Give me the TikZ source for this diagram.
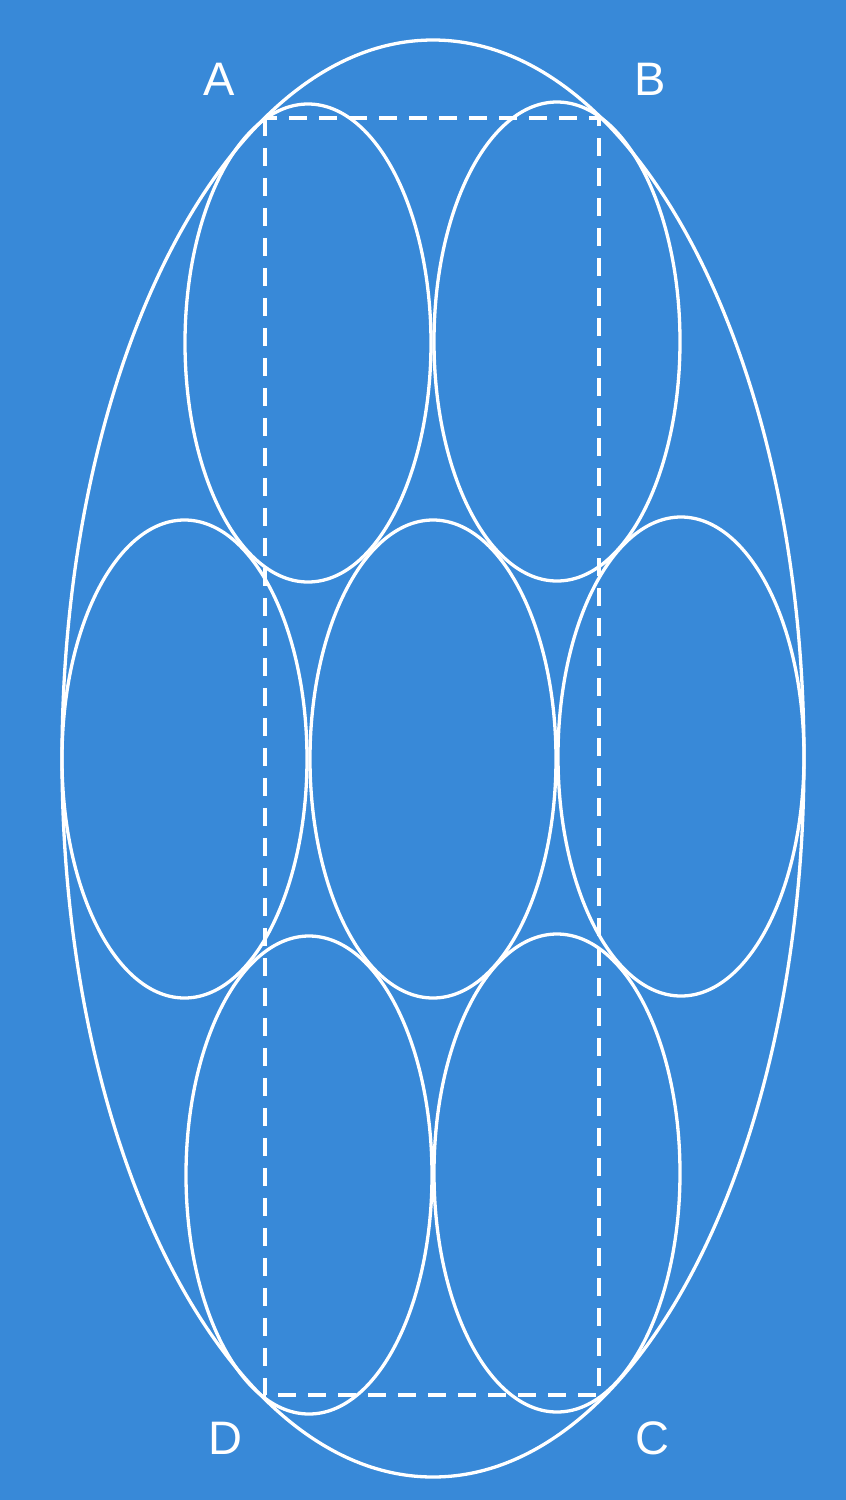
\documentclass[tikz,border=0pt]{standalone}
\usepackage{fontspec}
\setmainfont{Liberation Sans}
\definecolor{bg}{RGB}{56,137,216}
\begin{document}
\begin{tikzpicture}[x=1pt,y=-1pt,
  oval/.style={draw=white,line width=3.3pt},
  box/.style={draw=white,line width=3.3pt,dash pattern=on 18pt off 12pt},
  lbl/.style={text=white,font=\fontsize{47}{50}\selectfont,inner sep=0pt}]
\fill[bg] (0,0) rectangle (846,1500);
\useasboundingbox (0,0) rectangle (846,1500);
\draw[oval] (433,758.5) ellipse [x radius=371, y radius=718.5];
\draw[oval] (308,343) ellipse [x radius=123, y radius=239];
\draw[oval] (557,341.5) ellipse [x radius=123, y radius=239.5];
\draw[oval] (184.5,759) ellipse [x radius=122.5, y radius=239];
\draw[oval] (433,759) ellipse [x radius=123, y radius=239];
\draw[oval] (681,756.5) ellipse [x radius=123, y radius=239.5];
\draw[oval] (309,1175) ellipse [x radius=123, y radius=239];
\draw[oval] (557,1173) ellipse [x radius=123, y radius=239];
\draw[box] (265,118) rectangle (599,1395);
\node[lbl] (A) at (219,79) {A};
\node[lbl] (B) at (650,79) {B};
\node[lbl] (D) at (225,1438) {D};
\node[lbl] (C) at (652,1438) {C};
\end{tikzpicture}
\end{document}
